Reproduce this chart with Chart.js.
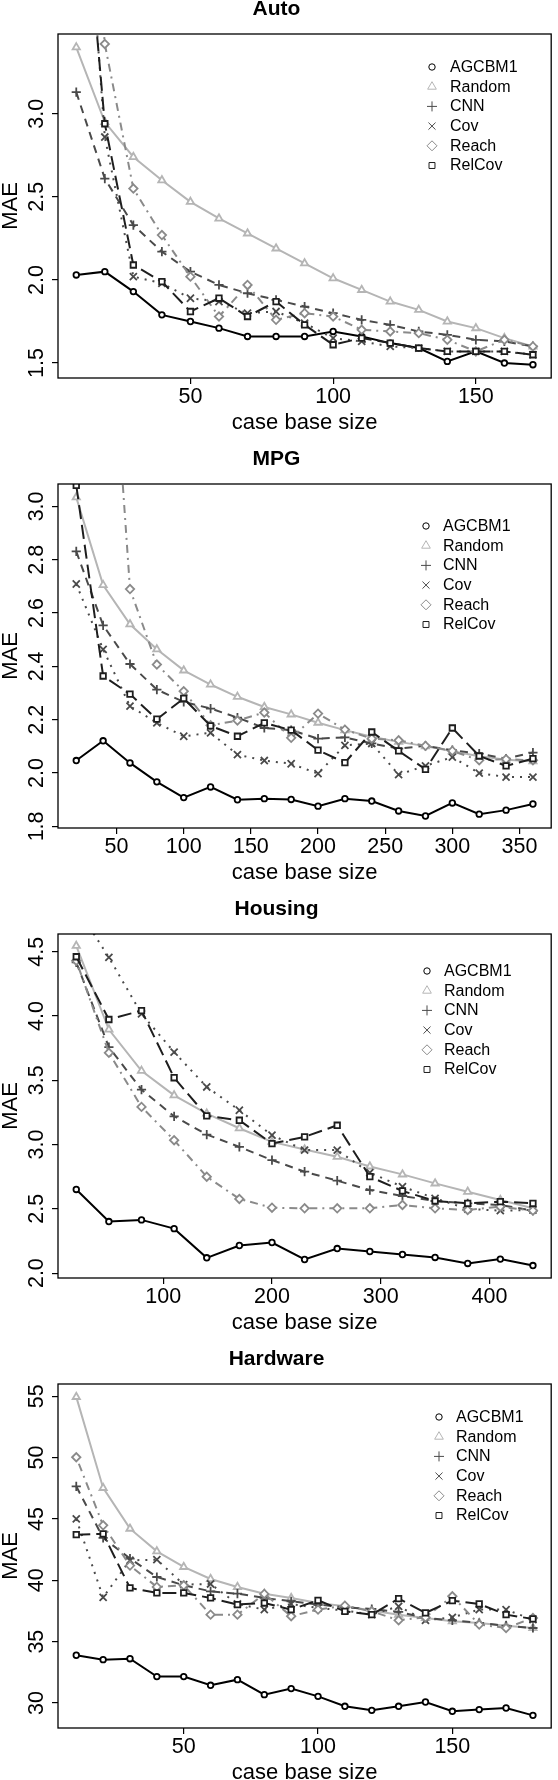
<!DOCTYPE html>
<html>
<head>
<meta charset="utf-8">
<script src="https://cdn.jsdelivr.net/npm/chart.js@4.4.0/dist/chart.umd.min.js"></script>
<style>
  html, body { margin: 0; padding: 0; background: #fff; }
  #page { position: relative; width: 558px; height: 1780px; overflow: hidden; }
  canvas { position: absolute; left: 0; }
</style>
</head>
<body>
<div id="page">
  <canvas id="autoChart" width="558" height="450" style="top:-16px"></canvas>
  <canvas id="mpgChart" width="558" height="450" style="top:434px"></canvas>
  <canvas id="housingChart" width="558" height="450" style="top:884px"></canvas>
  <canvas id="hardwareChart" width="558" height="450" style="top:1334px"></canvas>
</div>
<script>
const methods = ['AGCBM1', 'Random', 'CNN', 'Cov', 'Reach', 'RelCov'];

// Auto
const autoX = [10, 20, 30, 40, 50, 60, 70, 80, 90, 100, 110, 120, 130, 140, 150, 160, 170];
const autoAgcbm1 = [2.03, 2.05, 1.93, 1.79, 1.75, 1.71, 1.66, 1.66, 1.66, 1.69, 1.66, 1.62, 1.59, 1.51, 1.57, 1.50, 1.49];
const autoRandom = [3.40, 2.95, 2.74, 2.60, 2.47, 2.37, 2.28, 2.19, 2.10, 2.01, 1.94, 1.87, 1.82, 1.75, 1.71, 1.65, 1.60];
const autoCnn = [3.13, 2.61, 2.33, 2.17, 2.05, 1.97, 1.92, 1.88, 1.84, 1.80, 1.76, 1.73, 1.69, 1.67, 1.64, 1.63, 1.60];
const autoCov = [5.2, 2.86, 2.02, 1.98, 1.89, 1.87, 1.80, 1.81, 1.74, 1.65, 1.63, 1.60, 1.59, 1.57, 1.57, 1.57, 1.55];
const autoReach = [5.5, 3.42, 2.55, 2.27, 2.02, 1.78, 1.97, 1.76, 1.80, 1.78, 1.70, 1.69, 1.68, 1.64, 1.57, 1.64, 1.60];
const autoRelCov = [4.9, 2.94, 2.09, 1.99, 1.81, 1.89, 1.78, 1.87, 1.73, 1.61, 1.65, 1.62, 1.59, 1.57, 1.57, 1.57, 1.55];
const autoXTicks = [50, 100, 150];
const autoYTicks = [1.5, 2.0, 2.5, 3.0];

// MPG
const mpgX = [20, 40, 60, 80, 100, 120, 140, 160, 180, 200, 220, 240, 260, 280, 300, 320, 340, 360];
const mpgAgcbm1 = [2.047, 2.121, 2.038, 1.967, 1.908, 1.948, 1.900, 1.904, 1.901, 1.876, 1.904, 1.895, 1.858, 1.839, 1.888, 1.846, 1.861, 1.884];
const mpgRandom = [3.034, 2.705, 2.558, 2.464, 2.385, 2.332, 2.286, 2.248, 2.220, 2.189, 2.161, 2.136, 2.117, 2.101, 2.082, 2.063, 2.050, 2.044];
const mpgCnn = [2.831, 2.554, 2.409, 2.313, 2.267, 2.242, 2.208, 2.169, 2.161, 2.129, 2.134, 2.111, 2.092, 2.102, 2.086, 2.073, 2.054, 2.077];
const mpgCov = [2.709, 2.464, 2.251, 2.188, 2.138, 2.151, 2.069, 2.047, 2.035, 1.998, 2.104, 2.111, 1.994, 2.027, 2.060, 2.000, 1.985, 1.985];
const mpgReach = [5.5, 4.15, 2.690, 2.407, 2.307, 2.179, 2.197, 2.227, 2.132, 2.223, 2.163, 2.129, 2.123, 2.102, 2.083, 2.048, 2.052, 2.048];
const mpgRelCov = [3.079, 2.364, 2.296, 2.202, 2.280, 2.177, 2.138, 2.188, 2.161, 2.086, 2.039, 2.154, 2.083, 2.014, 2.169, 2.064, 2.027, 2.054];
const mpgXTicks = [50, 100, 150, 200, 250, 300, 350];
const mpgYTicks = [1.8, 2.0, 2.2, 2.4, 2.6, 2.8, 3.0];

// Housing
const housingX = [20, 50, 80, 110, 140, 170, 200, 230, 260, 290, 320, 350, 380, 410, 440];
const housingAgcbm1 = [2.651, 2.401, 2.414, 2.346, 2.119, 2.215, 2.238, 2.106, 2.191, 2.168, 2.145, 2.122, 2.075, 2.109, 2.059];
const housingRandom = [4.546, 3.895, 3.574, 3.383, 3.241, 3.127, 3.021, 2.962, 2.905, 2.830, 2.768, 2.698, 2.633, 2.569, 2.504];
const housingCnn = [4.417, 3.758, 3.427, 3.220, 3.078, 2.982, 2.879, 2.789, 2.719, 2.646, 2.600, 2.561, 2.543, 2.530, 2.486];
const housingCov = [4.85, 4.456, 4.017, 3.719, 3.448, 3.267, 3.073, 2.957, 2.957, 2.781, 2.672, 2.582, 2.499, 2.486, 2.491];
const housingReach = [4.43, 3.714, 3.293, 3.034, 2.750, 2.577, 2.509, 2.504, 2.504, 2.504, 2.530, 2.504, 2.491, 2.517, 2.486];
const housingRelCov = [4.461, 3.973, 4.042, 3.520, 3.223, 3.189, 3.008, 3.060, 3.150, 2.750, 2.639, 2.561, 2.543, 2.556, 2.543];
const housingXTicks = [100, 200, 300, 400];
const housingYTicks = [2.0, 2.5, 3.0, 3.5, 4.0, 4.5];

// Hardware
const hwX = [10, 20, 30, 40, 50, 60, 70, 80, 90, 100, 110, 120, 130, 140, 150, 160, 170, 180];
const hwAgcbm1 = [33.89, 33.53, 33.61, 32.15, 32.15, 31.44, 31.90, 30.68, 31.17, 30.54, 29.73, 29.40, 29.73, 30.08, 29.32, 29.46, 29.59, 28.99];
const hwRandom = [54.95, 47.53, 44.21, 42.36, 41.09, 40.11, 39.46, 38.91, 38.56, 38.15, 37.88, 37.53, 37.20, 36.93, 36.66, 36.52, 36.30, 36.11];
const hwCnn = [47.66, 43.45, 41.77, 40.27, 39.59, 39.10, 38.91, 38.56, 38.29, 38.02, 37.80, 37.66, 37.42, 36.93, 36.74, 36.52, 36.30, 36.11];
const hwCov = [45.00, 38.61, 41.63, 41.68, 39.65, 39.70, 38.07, 37.61, 38.07, 37.74, 37.53, 37.20, 37.88, 36.74, 36.98, 37.61, 37.61, 36.79];
const hwReach = [50.03, 44.48, 41.20, 39.46, 39.59, 37.20, 37.20, 38.89, 37.07, 37.61, 37.93, 37.47, 36.74, 36.98, 38.70, 36.39, 36.11, 36.93];
const hwRelCov = [43.72, 43.78, 39.38, 38.97, 38.97, 38.56, 38.02, 38.15, 37.61, 38.37, 37.47, 37.20, 38.51, 37.34, 38.34, 38.07, 37.20, 36.85];
const hwXTicks = [50, 100, 150];
const hwYTicks = [30, 35, 40, 45, 50, 55];

const FONT = '"Liberation Sans", Arial, Helvetica, sans-serif';
Chart.defaults.font.family = FONT;

// R-like line and symbol styles per method
const styles = {
  AGCBM1: { color: '#000000', point: 'circle',   r: 2.8, lr: 3.2, dash: [] },
  Random: { color: '#b5b5b5', point: 'triangle', r: 4.2, lr: 5.0, dash: [] },
  CNN:    { color: '#4a4a4a', point: 'cross',    r: 4.6, lr: 5.0, dash: [8, 6] },
  Cov:    { color: '#4a4a4a', point: 'crossRot', r: 5.0, lr: 5.0, dash: [2, 6] },
  Reach:  { color: '#8a8a8a', point: 'rectRot',  r: 4.2, lr: 5.0, dash: [2, 5, 8, 5] },
  RelCov: { color: '#1e1e1e', point: 'rect',     r: 3.9, lr: 4.2, dash: [14, 6] }
};

function decor(cfg) {
  return {
    id: 'rDecor',
    afterDraw(chart) {
      const ctx = chart.ctx, a = chart.chartArea;
      const xs = chart.scales.x, ys = chart.scales.y;
      ctx.save();
      ctx.strokeStyle = '#000';
      ctx.lineWidth = 1.3;
      ctx.setLineDash([]);
      ctx.strokeRect(a.left, a.top, a.right - a.left, a.bottom - a.top);

      ctx.fillStyle = '#000';
      ctx.font = '21.5px ' + FONT;
      ctx.textAlign = 'center';
      ctx.textBaseline = 'alphabetic';
      cfg.xTicks.forEach(v => ctx.fillText(String(v), xs.getPixelForValue(v), a.bottom + 24.5));
      cfg.yTicks.forEach(v => {
        ctx.save();
        ctx.translate(43, ys.getPixelForValue(v));
        ctx.rotate(-Math.PI / 2);
        ctx.fillText(v.toFixed(cfg.yDec), 0, 0);
        ctx.restore();
      });

      ctx.font = '22px ' + FONT;
      ctx.fillText('case base size', (a.left + a.right) / 2, a.bottom + 51);
      ctx.save();
      ctx.translate(17, (a.top + a.bottom) / 2);
      ctx.rotate(-Math.PI / 2);
      ctx.fillText('MAE', 0, 0);
      ctx.restore();

      // legend: symbols only, like R's legend(pch=...)
      ctx.font = '16px ' + FONT;
      ctx.textAlign = 'left';
      ctx.textBaseline = 'middle';
      methods.forEach((m, i) => {
        const s = styles[m];
        const y = a.top + cfg.legendY + i * 19.7;
        ctx.strokeStyle = s.color;
        ctx.fillStyle = 'rgba(0,0,0,0)';
        ctx.lineWidth = 1;
        Chart.helpers.drawPoint(ctx, { pointStyle: s.point, radius: s.lr, borderWidth: 1, rotation: 0 }, cfg.symX, y);
        ctx.fillStyle = '#000';
        ctx.fillText(m, cfg.txtX, y + 0.5);
      });
      ctx.restore();
    }
  };
}

function makePanel(id, title, xs, values, xRange, yRange, xTicks, yTicks, yDec, legend) {
  const datasets = methods.map((m, i) => {
    const s = styles[m];
    return {
      label: m,
      data: xs.map((x, j) => ({ x: x, y: values[i][j] })),
      borderColor: s.color,
      borderWidth: 2,
      borderDash: s.dash,
      pointStyle: s.point,
      pointRadius: s.r,
      pointBorderWidth: 1.8,
      pointBorderColor: s.color,
      pointBackgroundColor: '#ffffff',
      tension: 0,
      clip: 0,
      order: methods.length - i
    };
  });
  new Chart(document.getElementById(id), {
    type: 'line',
    data: { datasets: datasets },
    options: {
      responsive: false,
      animation: false,
      events: [],
      layout: { padding: { left: 0, right: 5, top: 0, bottom: 0 } },
      plugins: {
        legend: { display: false },
        tooltip: { enabled: false },
        title: {
          display: true,
          text: title,
          color: '#000',
          font: { size: 21, weight: 'bold', lineHeight: 1.2 },
          padding: { top: 12.5, bottom: 12.3 }
        }
      },
      scales: {
        x: {
          type: 'linear',
          min: xRange[0],
          max: xRange[1],
          afterBuildTicks: sc => { sc.ticks = xTicks.map(v => ({ value: v })); },
          afterFit: sc => { sc.height = 56; },
          ticks: { display: false },
          grid: { display: true, drawOnChartArea: false, drawTicks: true, tickLength: 6, color: '#000', lineWidth: 1.2 },
          border: { display: false }
        },
        y: {
          type: 'linear',
          min: yRange[0],
          max: yRange[1],
          afterBuildTicks: sc => { sc.ticks = yTicks.map(v => ({ value: v })); },
          afterFit: sc => { sc.width = 58; },
          ticks: { display: false },
          grid: { display: true, drawOnChartArea: false, drawTicks: true, tickLength: 6, color: '#000', lineWidth: 1.2 },
          border: { display: false }
        }
      }
    },
    plugins: [decor({ xTicks: xTicks, yTicks: yTicks, yDec: yDec, symX: legend[0], txtX: legend[1], legendY: legend[2] })]
  });
}

makePanel('autoChart', 'Auto', autoX,
  [autoAgcbm1, autoRandom, autoCnn, autoCov, autoReach, autoRelCov],
  [3.6, 176.4], [1.41, 3.48], autoXTicks, autoYTicks, 1, [432, 450, 33]);

makePanel('mpgChart', 'MPG', mpgX,
  [mpgAgcbm1, mpgRandom, mpgCnn, mpgCov, mpgReach, mpgRelCov],
  [6.4, 373.6], [1.794, 3.084], mpgXTicks, mpgYTicks, 1, [426, 443, 42]);

makePanel('housingChart', 'Housing', housingX,
  [housingAgcbm1, housingRandom, housingCnn, housingCov, housingReach, housingRelCov],
  [3.2, 456.8], [1.962, 4.638], housingXTicks, housingYTicks, 1, [427, 444, 37]);

makePanel('hardwareChart', 'Hardware', hwX,
  [hwAgcbm1, hwRandom, hwCnn, hwCov, hwReach, hwRelCov],
  [3.2, 186.8], [27.96, 56.0], hwXTicks, hwYTicks, 0, [439, 456, 33]);
</script>
</body>
</html>
